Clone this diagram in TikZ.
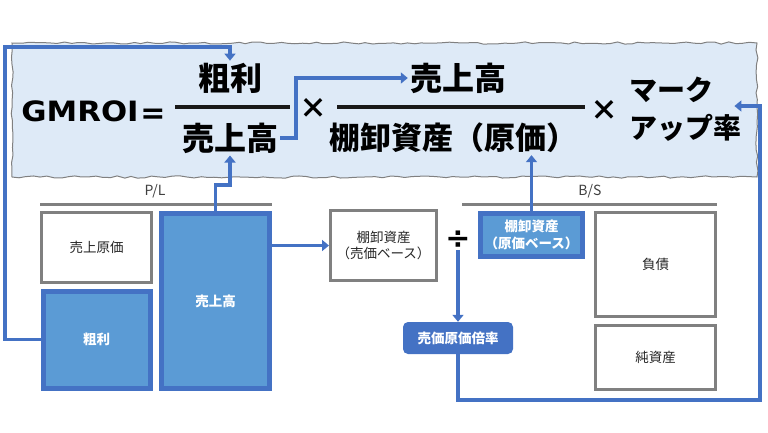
\documentclass[tikz,border=0pt]{standalone}
\usepackage{fontspec}
\setmainfont{Noto Sans CJK JP}
\newfontfamily\dv{DejaVu Sans}
\usetikzlibrary{arrows.meta,decorations.pathmorphing}
\definecolor{panel}{RGB}{222,234,247}
\definecolor{bfill}{RGB}{91,155,213}
\definecolor{bdark}{RGB}{68,114,196}
\definecolor{gbord}{RGB}{128,128,128}
\begin{document}
\begin{tikzpicture}[x=1pt,y=-1pt,
  conn/.style={draw=bdark,line width=3.5pt},
  tip/.style={-{Triangle[width=11pt,length=7pt]}},
  big/.style={font=\fontsize{32}{38}\selectfont\bfseries,inner sep=2pt},
  greybox/.style={draw=gbord,line width=3pt,fill=white,font=\fontsize{13.5}{16}\selectfont,text=black!85,align=center},
  bluebox/.style={draw=bdark,line width=5pt,fill=bfill,text=white,font=\fontsize{13.5}{17}\selectfont\bfseries,align=center},
  rule/.style={draw=black!90,line width=3.2pt},
  hline/.style={draw=gbord,line width=3pt},
  lab/.style={font=\fontsize{14}{16}\selectfont,text=black!75,inner sep=1pt}]
\useasboundingbox (0,0) rectangle (768,432);
% panel
\pgfmathsetseed{7}
\draw[draw=gbord,line width=1pt,fill=panel,decorate,decoration={random steps,segment length=7pt,amplitude=1.1pt}] (12,43) rectangle (757,177);
% formula
\node[inner sep=1pt,font=\dv\fontsize{28}{30}\selectfont\bfseries] (gm) at (80,111) {\scalebox{1.1}[1]{GMROI}};
\node[inner sep=1pt,font=\dv\fontsize{30}{30}\selectfont\bfseries] (eq) at (153,116) {=};
\node[big] (num1) at (230,78) {粗利};
\node[big] (den1) at (230,138) {売上高};
\draw[rule] (175,107) -- (290,107);
\node[big,font=\fontsize{28}{30}\selectfont\bfseries] (times1) at (313,108) {×};
\node[big] (num2) at (458,78) {売上高};
\node[big,font=\fontsize{31}{38}\selectfont\bfseries] (den2) at (453,138) {棚卸資産（原価）};
\draw[rule] (337,107) -- (585,107);
\node[big,font=\fontsize{28}{30}\selectfont\bfseries] (times2) at (604,110) {×};
\node[big,font=\fontsize{28}{38}\selectfont\bfseries,align=left,anchor=west] (mk) at (627,109) {マーク\\アップ率};
% P/L
\node[lab] (pl) at (155,191) {P/L};
\draw[hline] (40,204) -- (272,204);
\node[greybox,minimum width=110,minimum height=70] (urigen) at (96.5,247) {売上原価};
\node[bluebox,minimum width=107,minimum height=97] (arari) at (96.5,339.5) {粗利};
\node[bluebox,minimum width=108,minimum height=175] (uriage) at (215.5,301) {売上高};
% middle
\node[greybox,minimum width=106,minimum height=70] (tanaU) at (383.5,245.5) {棚卸資産\\（売価ベース）};
\node[inner sep=1pt,font=\dv\fontsize{30}{30}\selectfont\bfseries] (div) at (458,240) {÷};
\node[fill=bdark,rounded corners=5pt,minimum width=110,minimum height=32,text=white,font=\fontsize{13.5}{16}\selectfont\bfseries] (bair) at (458,338) {売価原価倍率};
% B/S
\node[lab] (bs) at (590,191) {B/S};
\draw[hline] (462,204) -- (717,204);
\node[bluebox,minimum width=102,minimum height=43] (tanaG) at (531.5,235) {棚卸資産\\（原価ベース）};
\node[greybox,minimum width=120,minimum height=104] (fusai) at (655.5,264.5) {負債};
\node[greybox,minimum width=120,minimum height=64] (junshi) at (655.5,357.5) {純資産};
% connectors
\coordinate (kL) at (5,47);
\coordinate (kR) at (760,400);
\draw[conn,tip] (arari.west) -| (kL) -| (num1.north);
\draw[conn,tip] (uriage.north) -- ++(0,-26) -| (den1.south);
\draw[conn,tip] (den1.east) -- ++(16,0) |- (num2.west);
\draw[conn,tip] (tanaG.north) -- (tanaG.north |- den2.south);
\draw[conn,tip] (uriage.east |- tanaU.west) -- (tanaU.west);
\draw[conn,tip] (div.south) -- (bair.north);
\draw[conn,tip] (bair.south) |- (kR) |- ([xshift=-9pt,yshift=3pt]mk.east);
\end{tikzpicture}
\end{document}
